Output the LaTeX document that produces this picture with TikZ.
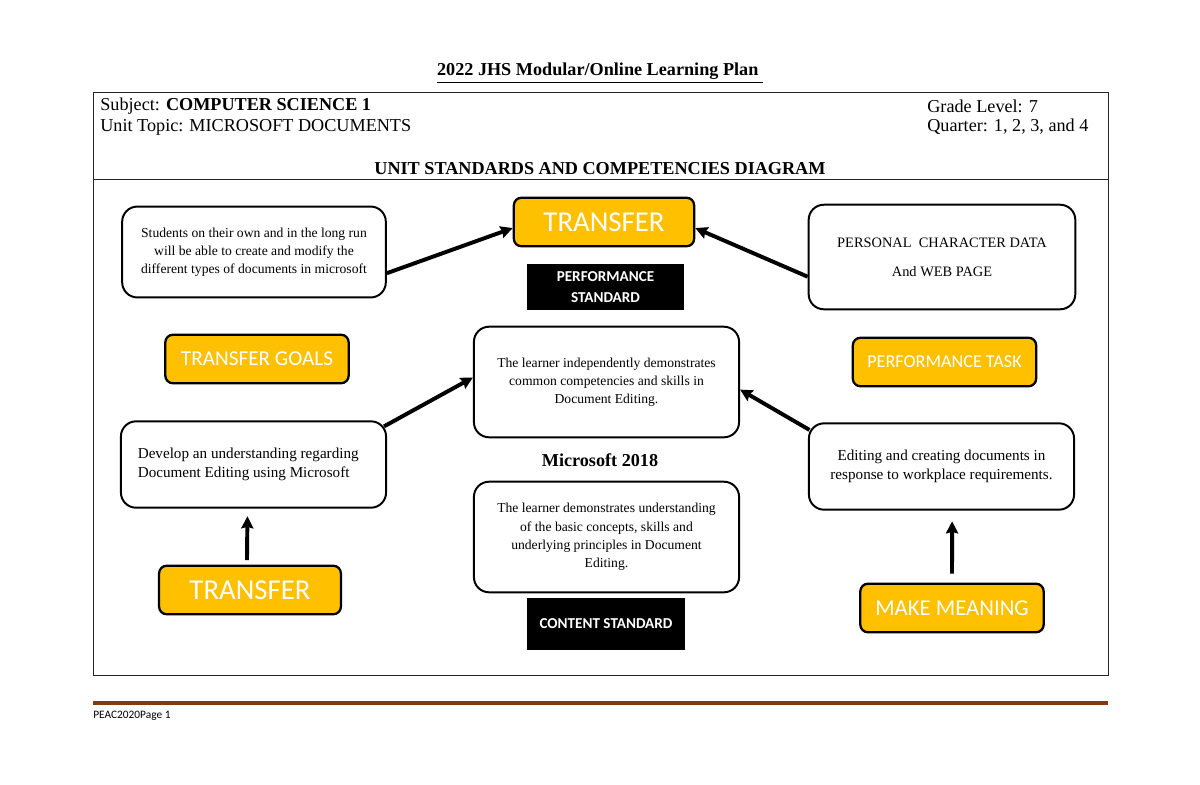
\documentclass[tikz,border=0pt]{standalone}
\usepackage{fontspec}
\setmainfont{Liberation Serif}
\newfontfamily\calib{Carlito}
\usetikzlibrary{arrows.meta}
\definecolor{gold}{HTML}{FFC000}
\definecolor{rust}{HTML}{843C0C}
\tikzset{
  whitebox/.style={draw, line width=1.3pt, rounded corners=10pt, fill=white, align=center, inner sep=2pt},
  goldbox/.style={draw, line width=1.5pt, rounded corners=5pt, fill=gold, text=white, font=\calib},
  blackbox/.style={fill=black, text=white, font=\calib\bfseries\fontsize{10}{14}\selectfont, align=center},
  bigarrow/.style={line width=2.6pt, -{Stealth[length=8pt,width=8pt,inset=1pt]}},
}
\begin{document}
\begin{tikzpicture}[x=0.66pt, y=-0.66pt]
  \useasboundingbox (0,0) rectangle (1200,785);

  % header
  \node (title) at (600,73) {\fontsize{12}{14}\selectfont\bfseries\underline{2022 JHS Modular/Online Learning Plan\ }};
  \draw[line width=0.5pt, black!85] (93,92) rectangle (1108,675);
  \draw[line width=0.5pt, black!85] (93,179) -- (1108,179);
  \node[anchor=west] (subj) at (95,106) {\fontsize{12}{14}\selectfont Subject: \textbf{COMPUTER SCIENCE 1}};
  \node[anchor=west] (topic) at (95,127) {\fontsize{12}{14}\selectfont Unit Topic: MICROSOFT DOCUMENTS};
  \node[anchor=west] (grade) at (922,106) {\fontsize{12}{14}\selectfont Grade Level: 7};
  \node[anchor=west] (quarter) at (922,127) {\fontsize{12}{14}\selectfont Quarter: 1, 2, 3, and 4};
  \node (heading) at (600,169) {\fontsize{12}{14}\selectfont\bfseries UNIT STANDARDS AND COMPETENCIES DIAGRAM};

  % left column
  \node[whitebox, minimum width=174pt, minimum height=60pt, font=\fontsize{9}{12}\selectfont] (stu) at (254,252)
    {Students on their own and in the long run\\ will be able to create and modify the\\ different types of documents in microsoft};
  \node[goldbox, minimum width=121pt, minimum height=32pt, font=\calib\fontsize{14}{16}\selectfont] (trgoals) at (257,359) {TRANSFER GOALS};
  \node[whitebox, minimum width=175pt, minimum height=57pt, align=left, font=\fontsize{10}{12.5}\selectfont] (dev) at (253.5,464.5)
    {Develop an understanding regarding\\ Document Editing using Microsoft\hspace*{1.3em}};
  \node[goldbox, minimum width=120pt, minimum height=32pt, font=\calib\fontsize{19}{22}\selectfont] (trbot) at (250,590) {TRANSFER};

  % middle column
  \node[goldbox, minimum width=119pt, minimum height=32pt, font=\calib\fontsize{19}{22}\selectfont] (trtop) at (604,222) {TRANSFER};
  \node[blackbox, minimum width=104pt, minimum height=30pt] (perfstd) at (605.5,287) {PERFORMANCE\\ STANDARD};
  \node[whitebox, minimum width=175pt, minimum height=73pt, font=\fontsize{9}{12}\selectfont] (indep) at (606.5,382)
    {The learner independently demonstrates\\ common competencies and skills in\\ Document Editing.};
  \node (ms) at (600,460) {\fontsize{12}{14}\selectfont\bfseries Microsoft 2018};
  \node[whitebox, minimum width=175pt, minimum height=73pt, font=\fontsize{9}{12}\selectfont] (under) at (606.5,537)
    {The learner demonstrates understanding\\ of the basic concepts, skills and\\ underlying principles in Document\\ Editing.};
  \node[blackbox, minimum width=104pt, minimum height=34pt] (contstd) at (606,624) {CONTENT STANDARD};

  % right column
  \node[whitebox, minimum width=176pt, minimum height=69pt, font=\fontsize{9.5}{19}\selectfont] (pers) at (942,257)
    {PERSONAL\ \ CHARACTER DATA\\ And WEB PAGE};
  \node[goldbox, minimum width=121pt, minimum height=32pt, font=\calib\fontsize{12}{14}\selectfont] (perftask) at (944.5,362) {PERFORMANCE TASK};
  \node[whitebox, minimum width=175pt, minimum height=57pt, font=\fontsize{10}{12.5}\selectfont] (edit) at (941.5,466.5)
    {Editing and creating documents in\\ response to workplace requirements.};
  \node[goldbox, minimum width=121pt, minimum height=32pt, font=\calib\fontsize{15}{18}\selectfont] (make) at (952,608) {MAKE MEANING};

  % arrows
  \draw[bigarrow] ([yshift=-14pt]stu.east) -- ([yshift=-4pt]trtop.west);
  \draw[bigarrow] ([yshift=-13pt]pers.west) -- ([yshift=-4pt]trtop.east);
  \draw[bigarrow] ([xshift=-2pt,yshift=-4pt]dev.north east) -- ([yshift=3pt]indep.west);
  \draw[bigarrow] ([xshift=1pt,yshift=-5pt]edit.north west) -- ([yshift=-5pt]indep.east);
  \draw[bigarrow] ([xshift=-2pt,yshift=3pt]trbot.north) -- ([xshift=-4pt,yshift=-5pt]dev.south);
  \draw[bigarrow] ([yshift=6pt]make.north) -- ([xshift=7pt,yshift=-7pt]edit.south);

  % footer
  \draw[rust, line width=2.2pt] (93,703) -- (1108,703);
  \node[anchor=west, inner sep=0pt] (page) at (93,716) {\calib\fontsize{7.5}{9}\selectfont PEAC2020Page 1};
\end{tikzpicture}
\end{document}
